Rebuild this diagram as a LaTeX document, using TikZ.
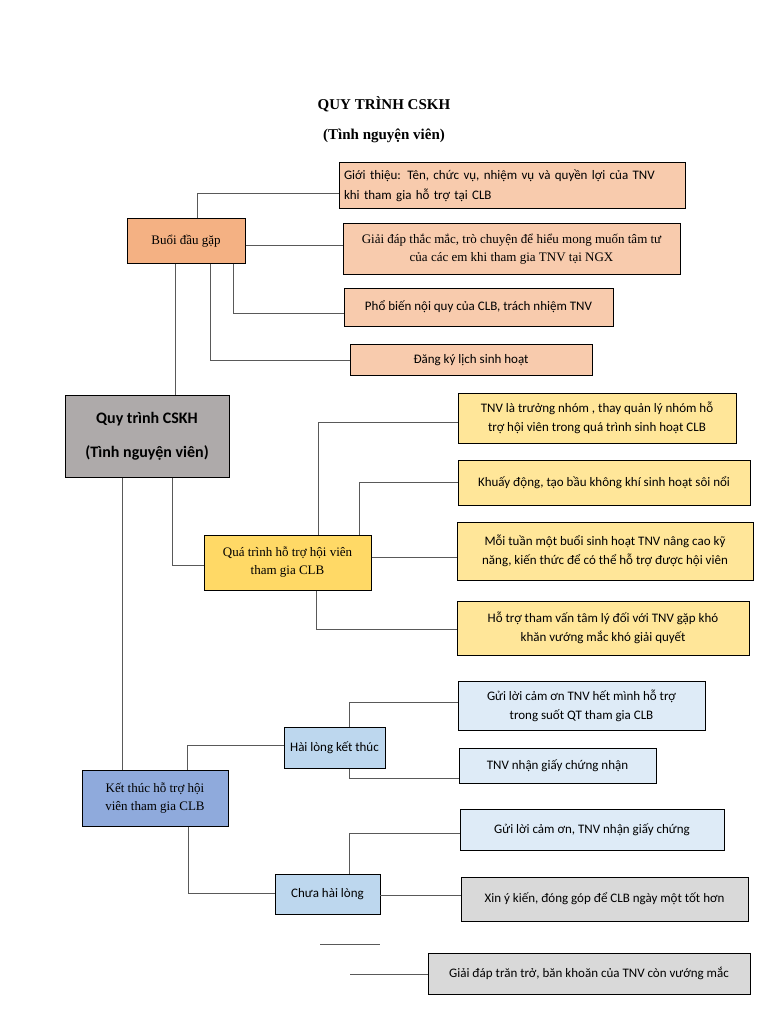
\documentclass[tikz,border=0pt]{standalone}
\usepackage{fontspec}
\setmainfont{Liberation Serif}
\newfontfamily\sff{Carlito}
\begin{document}
\begin{tikzpicture}[x=1pt,y=-1pt,
 bx/.style={draw=black,line width=1pt,inner sep=2pt,align=center,font=\sff\fontsize{13}{19}\selectfont},
 sb/.style={bx,font=\fontsize{13}{18}\selectfont},
 ln/.style={draw=black!65,line width=0.8pt}]
\useasboundingbox (0,0) rectangle (768,1024);
\definecolor{or}{HTML}{F4B183}\definecolor{pe}{HTML}{F8CBAD}
\definecolor{gr}{HTML}{AEAAAA}\definecolor{yd}{HTML}{FFD966}\definecolor{yl}{HTML}{FFE699}
\definecolor{bd}{HTML}{8FAADC}\definecolor{bm}{HTML}{BDD7EE}\definecolor{bl}{HTML}{DEEBF7}
\definecolor{lg}{HTML}{D9D9D9}
\node[font=\bfseries\fontsize{15}{17}\selectfont] (t1) at (384,104) {QUY TRÌNH CSKH};
\node[font=\bfseries\fontsize{15}{17}\selectfont] (t2) at (384,136) {(Tình nguyện viên)};
% nodes
\node[sb,fill=or,minimum width=118,minimum height=44] (b0) at (186,241) {Buổi đầu gặp};
\node[bx,fill=pe,minimum width=346,minimum height=46,align=left,text width=336,font=\sff\fontsize{13}{20}\selectfont] (g1) at (512,186) {Giới thiệu: Tên, chức vụ, nhiệm vụ và quyền lợi của TNV\\khi tham gia hỗ trợ tại CLB};
\node[sb,fill=pe,minimum width=337,minimum height=50,font=\fontsize{13}{18}\selectfont] (g2) at (511.5,249) {Giải đáp thắc mắc, trò chuyện để hiểu mong muốn tâm tư\\của các em khi tham gia TNV tại NGX};
\node[bx,fill=pe,minimum width=269,minimum height=38] (g3) at (478.5,307) {Phổ biến nội quy của CLB, trách nhiệm TNV};
\node[bx,fill=pe,minimum width=242,minimum height=31] (g4) at (471,360) {Đăng ký lịch sinh hoạt};
\node[bx,fill=gr,minimum width=164,minimum height=82,font=\sff\bfseries\fontsize{16}{34}\selectfont] (m) at (147,436) {Quy trình CSKH\\(Tình nguyện viên)};
\node[sb,fill=yd,minimum width=167,minimum height=55] (q) at (287.5,562.5) {Quá trình hỗ trợ hội viên\\tham gia CLB};
\node[bx,fill=yl,minimum width=278,minimum height=50] (y1) at (597,418) {TNV là trưởng nhóm , thay quản lý nhóm hỗ\\trợ hội viên trong quá trình sinh hoạt CLB};
\node[bx,fill=yl,minimum width=292,minimum height=45] (y2) at (604,482.5) {Khuấy động, tạo bầu không khí sinh hoạt sôi nổi};
\node[bx,fill=yl,minimum width=296,minimum height=58] (y3) at (605,551) {Mỗi tuần một buổi sinh hoạt TNV nâng cao kỹ\\năng, kiến thức để có thể hỗ trợ được hội viên};
\node[bx,fill=yl,minimum width=292,minimum height=54] (y4) at (603,628) {Hỗ trợ tham vấn tâm lý đối với TNV gặp khó\\khăn vướng mắc khó giải quyết};
\node[sb,fill=bd,minimum width=146,minimum height=56] (k) at (155,798) {Kết thúc hỗ trợ hội\\viên tham gia CLB};
\node[bx,fill=bm,minimum width=101,minimum height=41] (h) at (334.5,747.5) {Hài lòng kết thúc};
\node[bx,fill=bl,line width=0.6pt,minimum width=247,minimum height=49] (l1) at (581.5,705.5) {Gửi lời cảm ơn TNV hết mình hỗ trợ\\trong suốt QT tham gia CLB};
\node[bx,fill=bl,minimum width=197,minimum height=35] (l2) at (557.5,765.5) {TNV nhận giấy chứng nhận};
\node[bx,fill=bm,line width=0.6pt,minimum width=105,minimum height=40] (c) at (327.5,894) {Chưa hài lòng};
\node[bx,fill=bl,line width=0.6pt,minimum width=264,minimum height=41] (l3) at (592,829.5) {Gửi lời cảm ơn, TNV nhận giấy chứng};
\node[bx,fill=lg,minimum width=287,minimum height=44] (d1) at (604.5,899) {Xin ý kiến, đóng góp để CLB ngày một tốt hơn};
\node[bx,fill=lg,minimum width=322,minimum height=41] (d2) at (589,973.5) {Giải đáp trăn trở, băn khoăn của TNV còn vướng mắc};
% connectors
\draw[ln] (b0.north -| 197,0) |- (g1.west |- 0,193);
\draw[ln] (b0.east |- 0,245) -- (g2.west |- 0,245);
\draw[ln] (b0.south -| 233,0) |- (g3.west |- 0,313);
\draw[ln] (b0.south -| 210,0) |- (g4.west |- 0,360);
\draw[ln] (b0.south -| 175,0) -- (m.north -| 175,0);
\draw[ln] (m.south -| 172,0) |- (q.west |- 0,565);
\draw[ln] (q.north -| 318,0) |- (y1.west |- 0,422);
\draw[ln] (q.north -| 359,0) |- (y2.west |- 0,482);
\draw[ln] (q.east |- 0,557) -- (y3.west |- 0,557);
\draw[ln] (q.south -| 316,0) |- (y4.west |- 0,629);
\draw[ln] (m.south -| 122,0) -- (k.north -| 122,0);
\draw[ln] (k.north -| 187,0) |- (h.west |- 0,745);
\draw[ln] (h.north -| 349,0) |- (l1.west |- 0,702);
\draw[ln] (h.south -| 349,0) |- (l2.west |- 0,778);
\draw[ln] (k.south -| 188,0) |- (c.west |- 0,893);
\draw[ln] (c.north -| 349,0) |- (l3.west |- 0,833);
\draw[ln] (c.east |- 0,895) -- (d1.west |- 0,895);
\coordinate (s1) at (320,944); \coordinate (s2) at (380,944); \coordinate (s3) at (350,974);
\draw[ln] (s1) -- (s2);
\draw[ln] (s3) -- (d2.west |- s3);
\end{tikzpicture}
\end{document}
